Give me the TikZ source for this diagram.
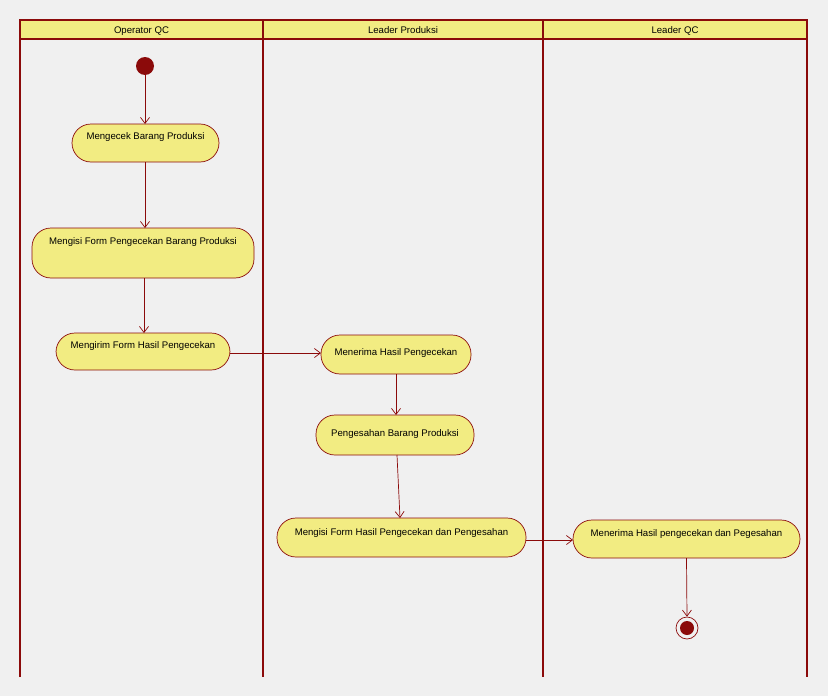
\documentclass[tikz,border=0pt]{standalone}
\usepackage{fontspec}
\setmainfont{Liberation Sans}
\usetikzlibrary{arrows.meta}
\definecolor{dred}{HTML}{8B0A0A}
\definecolor{ufill}{HTML}{F2EC82}
\definecolor{bg}{HTML}{F0F0F0}
\begin{document}
\begin{tikzpicture}[x=1pt,y=-1pt,
  act/.style={draw=dred,fill=ufill,rounded corners=19pt,line width=0.7pt},
  lbl/.style={font=\fontsize{9.6}{11}\selectfont,anchor=base},
  lane/.style={draw=dred,line width=2pt},
  flow/.style={draw=dred,line width=0.7pt,-{Straight Barb[length=6pt,width=9pt]}}]
\fill[bg] (0,0) rectangle (828,696);
\useasboundingbox (0,0) rectangle (828,696);
% lanes
\fill[ufill] (20,20) rectangle (807,39);
\draw[lane] (20,677) -- (20,20) -- (807,20) -- (807,677);
\draw[lane] (20,39) -- (807,39);
\draw[lane] (263,20) -- (263,677);
\draw[lane] (543,20) -- (543,677);
\node[lbl] (h1) at (141.5,34) {Operator QC};
\node[lbl] (h2) at (403,34) {Leader Produksi};
\node[lbl] (h3) at (675,34) {Leader QC};
% start
\node[circle,fill=dred,minimum size=18pt,inner sep=0] (s) at (145,66) {};
% activities
\newcommand{\act}[7]{\path[act] (#2,#3) rectangle (#4,#5); \node[lbl] (#1) at ({(#2+#4)/2},#6+4) {#7};}
\act{a}{72}{124}{219}{162}{135}{Mengecek Barang Produksi}
\act{b}{32}{228}{254}{278}{240}{Mengisi Form Pengecekan Barang Produksi}
\act{c}{56}{333}{230}{370}{344}{Mengirim Form Hasil Pengecekan}
\act{d}{321}{335}{471}{374}{351}{Menerima Hasil Pengecekan}
\act{e}{316}{415}{474}{455}{432}{Pengesahan Barang Produksi}
\act{f}{277}{518}{526}{557}{531}{Mengisi Form Hasil Pengecekan dan Pengesahan}
\act{g}{573}{520}{800}{558}{532}{Menerima Hasil pengecekan dan Pegesahan}
% end
\node[circle,draw=dred,line width=0.7pt,fill=bg,minimum size=22pt,inner sep=0] (t) at (687,628) {};
\node[circle,fill=dred,minimum size=14pt,inner sep=0] (ti) at (687,628) {};
% flows
\draw[flow] (s) -- (145,124);
\draw[flow] (145,162) -- (145,228);
\draw[flow] (144,278) -- (144,333);
\draw[flow] (230,353) -- (321,353);
\draw[flow] (396,374) -- (396,415);
\draw[flow] (397,455) -- (400,518);
\draw[flow] (526,540) -- (573,540);
\draw[flow] (686.5,558) -- (t.north);
\end{tikzpicture}
\end{document}
